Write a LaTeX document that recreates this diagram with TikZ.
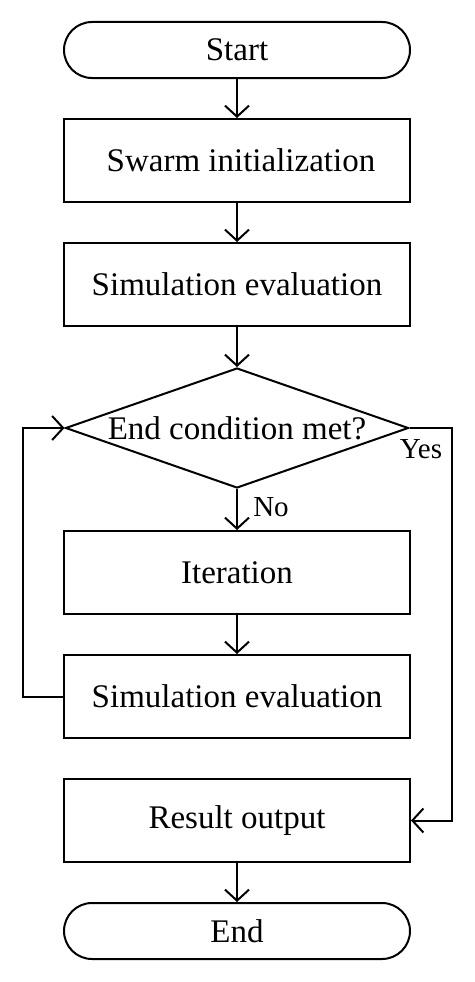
\documentclass[tikz,border=0pt]{standalone}
\usepackage{fontspec}
\setmainfont{Liberation Serif}
\usetikzlibrary{arrows.meta,shapes.geometric}
\begin{document}
\begin{tikzpicture}[x=1pt,y=-1pt,
  every node/.style={font=\fontsize{33}{38}\selectfont},
  proc/.style={draw,line width=2pt,minimum width=346pt,minimum height=83pt,inner sep=0pt},
  term/.style={draw,line width=2pt,rounded corners=28pt,minimum width=346pt,minimum height=56pt,inner sep=0pt},
  decis/.style={draw,line width=2pt,diamond,aspect=2.86,minimum width=343pt,minimum height=120pt,inner sep=0pt},
  flow/.style={line width=2pt,-{Straight Barb[length=11pt,width=24pt,line width=2pt]}},
  lab/.style={font=\fontsize{29}{32}\selectfont,inner sep=0pt}]
\useasboundingbox (0,0) rectangle (474,982);
\node[term] (start) at (237,50) {Start};
\node[proc] (init) at (237,160.5) {\hspace*{8pt}Swarm initialization};
\node[proc] (eval1) at (237,284.5) {Simulation evaluation};
\node[decis] (dec) at (237,428) {End condition met?};
\node[proc] (iter) at (237,572.5) {Iteration};
\node[proc] (eval2) at (237,696.5) {Simulation evaluation};
\node[proc] (res) at (237,820.5) {Result output};
\node[term] (end) at (237,931) {End};
\coordinate (lb) at (23,696.5);
\coordinate (lt) at (23,428);
\coordinate (rt) at (452,428);
\coordinate (rb) at (452,820.5);
\draw[flow] (start) -- (init);
\draw[flow] (init) -- (eval1);
\draw[flow] (eval1) -- (dec);
\draw[flow] (dec) -- (iter);
\draw[flow] (iter) -- (eval2);
\draw[flow] (res) -- (end);
\draw[flow] (eval2.west) -- (lb) -- (lt) -- (dec.west);
\draw[flow] (dec.east) -- (rt) -- (rb) -- (res.east);
\node[lab] (yes) at (421,449) {Yes};
\node[lab] (no) at (271,507) {No};
\end{tikzpicture}
\end{document}
